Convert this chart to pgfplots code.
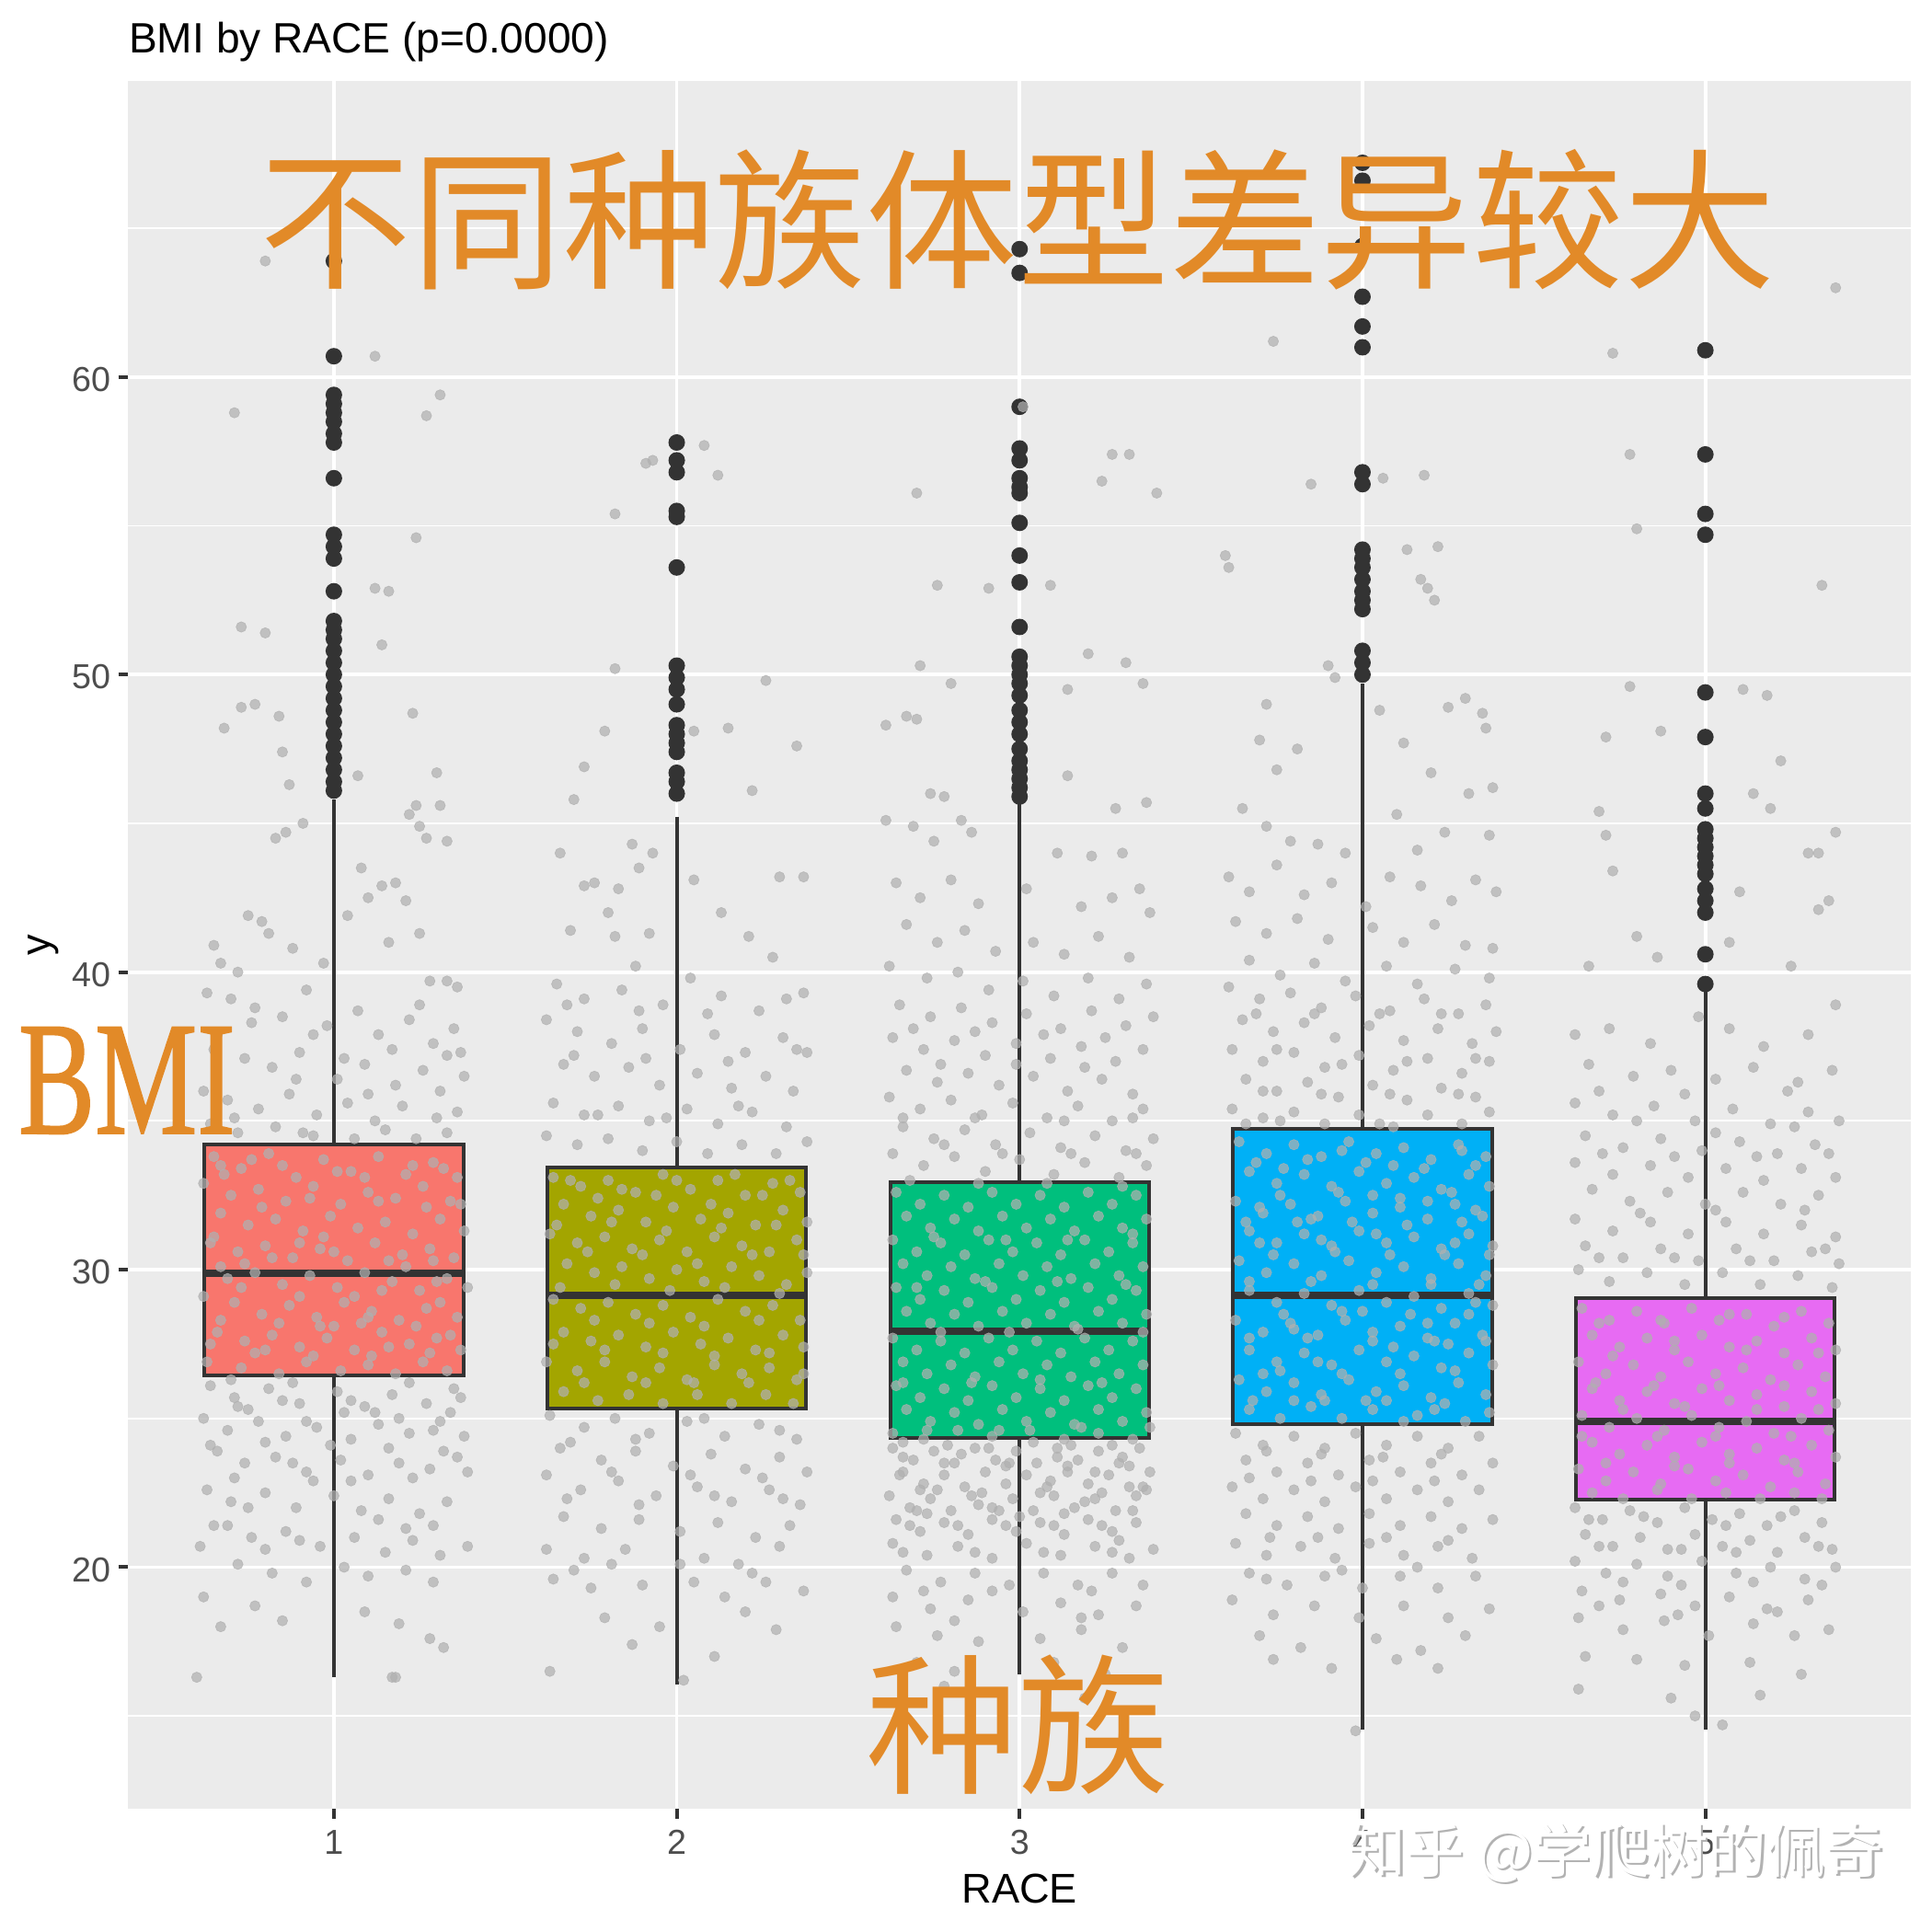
\documentclass[border=0pt]{standalone}
\usepackage{fontspec}
\usepackage{pgfplots}
\usepackage{pgfplotstable}
\pgfplotsset{compat=1.18}
\setmainfont{Liberation Sans}
\setsansfont{Liberation Sans}
\newfontfamily\cjk{Noto Sans CJK SC}
\newfontfamily\bmifont[FakeBold=1.2]{Liberation Serif}
\definecolor{panel}{HTML}{EBEBEB}
\definecolor{ink}{HTML}{333333}
\definecolor{ticktext}{HTML}{4D4D4D}
\definecolor{note}{HTML}{E28A28}
\definecolor{jit}{HTML}{B0B0B0}
\definecolor{c1}{HTML}{F8766D}
\definecolor{c2}{HTML}{A3A500}
\definecolor{c3}{HTML}{00BF7D}
\definecolor{c4}{HTML}{00B0F6}
\definecolor{c5}{HTML}{E76BF3}

% jitter points: d = horizontal offset from the category, v = BMI
\pgfplotstableread[row sep=\\]{
d v\\
-.29 58.8\\ .12 60.7\\ .31 59.4\\ .27 58.7\\ -.20 63.9\\ -.27 51.6\\ -.20 51.4\\ .12 52.9\\ .16 52.8\\ .24 54.6\\ .14 51\\ -.23 49\\ -.27 48.9\\ -.16 48.6\\ -.32 48.2\\ .23 48.7\\ .30 46.7\\ -.15 47.4\\ -.13 46.3\\ .07 46.6\\ .24 45.6\\ .22 45.3\\ .25 44.9\\ .31 45.6\\ .27 44.5\\ .33 44.4\\ -.14 44.7\\ -.17 44.5\\ -.09 45\\ .08 43.5\\ .18 43\\ .14 42.9\\
-.33 40.3\\ -.25 41.9\\ -.21 41.7\\ -.19 41.3\\ -.12 40.8\\ -.28 40\\ .04 41.9\\ .10 42.5\\ .21 42.4\\ .16 41\\ .28 39.7\\ .33 39.7\\ .36 39.5\\ -.37 39.3\\ -.30 39.1\\ -.23 38.8\\ -.15 38.5\\ -.08 39.4\\ -.02 38.2\\ .07 38.7\\ .13 37.9\\ .22 38.4\\ .29 37.6\\ .35 38.1\\ -.35 37.4\\ -.26 37.1\\ -.18 36.8\\ -.10 37.3\\ .01 36.4\\ .09 36.9\\ .18 36.2\\ .26 36.7\\ .38 36.5\\ -.38 36\\ -.31 35.7\\ -.22 35.4\\ -.13 35.9\\ -.05 35.2\\ .04 35.6\\ .12 35\\ .20 35.5\\ .30 35.1\\ .36 35.3\\ -.36 34.9\\ -.28 34.6\\ -.17 34.8\\ -.06 34.5\\ .06 34.4\\ .15 34.7\\ .24 34.4\\ .33 34.6\\
-.35 33.8\\ -.27 33.4\\ -.19 33.9\\ -.11 33.1\\ -.03 33.7\\ .05 33.3\\ .13 33.8\\ .21 33.2\\ .29 33.6\\ .36 33.1\\ -.38 32.9\\ -.30 32.5\\ -.22 32.7\\ -.14 32.3\\ -.06 32.8\\ .02 32.2\\ .10 32.6\\ .18 32.4\\ .26 32.8\\ .34 32.3\\ -.33 31.9\\ -.25 31.5\\ -.17 31.7\\ -.09 31.3\\ -.01 31.8\\ .07 31.4\\ .15 31.6\\ .23 31.2\\ .31 31.7\\ .38 31.3\\ -.36 30.9\\ -.28 30.6\\ -.20 30.8\\ -.12 30.4\\ -.04 30.7\\ .04 30.3\\ .12 30.9\\ .20 30.5\\ .28 30.7\\ .35 30.4\\ -.31 29.7\\ -.23 29.9\\ -.15 29.5\\ -.07 29.8\\ .01 29.4\\ .09 29.9\\ .17 29.6\\ .25 29.3\\ .33 29.7\\ -.38 29.1\\ -.29 28.9\\ -.21 28.5\\ -.13 28.8\\ -.05 28.4\\ .03 28.9\\ .11 28.6\\ .19 28.3\\ .27 28.7\\ .36 28.4\\ -.34 27.9\\ -.26 27.6\\ -.18 27.8\\ -.10 27.4\\ -.02 27.7\\ .06 27.3\\ .14 27.9\\ .22 27.5\\ .30 27.7\\ .37 27.3\\ -.37 26.9\\ -.27 26.7\\ -.16 26.5\\ -.08 26.9\\ .02 26.6\\ .10 26.8\\ .18 26.5\\ .26 26.9\\ .33 26.6\\
-.36 26.1\\ -.29 25.7\\ -.19 26\\ -.10 25.5\\ .01 25.9\\ .09 25.4\\ .17 25.8\\ .27 25.5\\ .35 26\\ -.38 25\\ -.31 24.6\\ -.22 24.9\\ -.14 24.4\\ -.05 24.7\\ .05 24.3\\ .13 24.8\\ .22 24.5\\ .31 24.9\\ .38 24.4\\ -.34 23.9\\ -.26 23.5\\ -.17 23.7\\ -.08 23.2\\ .02 23.6\\ .10 23.1\\ .19 23.5\\ .28 23.3\\ .36 23.7\\ -.37 22.6\\ -.30 22.2\\ -.20 22.5\\ -.11 22\\ .00 22.4\\ .08 21.9\\ .16 22.3\\ .25 21.8\\ .33 22.2\\ -.35 21.4\\ -.24 21\\ -.14 21.2\\ -.04 20.7\\ .06 21\\ .15 20.5\\ .23 20.9\\ .31 20.4\\ .39 20.7\\ -.39 20.7\\ -.28 20.1\\ -.18 19.8\\ -.08 19.5\\ .10 19.7\\ .21 19.9\\ .29 19.5\\ -.38 19\\ -.23 18.7\\ -.33 18\\ -.15 18.2\\ .09 18.5\\ .19 18.1\\ .28 17.6\\ .32 17.3\\ -.40 16.3\\ .17 16.3\\ .18 16.3\\
-.32 33.2\\ -.24 33.7\\ -.07 32.4\\ .09 33.1\\ .27 32.1\\ .32 33.4\\ -.35 31.1\\ -.21 32.1\\ -.03 31.1\\ .13 32.3\\ .21 30.1\\ .37 32.2\\ -.26 30.2\\ -.10 30.9\\ .06 29.1\\ .16 30.3\\ .31 28.9\\ -.33 28.3\\ -.16 28.2\\ .00 28.1\\ .08 28.2\\ .24 28.1\\ .39 29.4\\ -.23 27.2\\ -.06 27.1\\ .11 27.1\\ .28 27.2\\ -.30 26.3\\ -.12 26.2\\ .05 25.6\\ .22 26.2\\ .37 25.7\\ -.25 25.3\\ -.08 24.9\\ .12 25.2\\ .34 25.2\\ -.36 24.1\\ -.20 24.2\\ -.01 24.1\\ .16 24\\ .32 23.9\\ -.29 23\\ -.12 23.5\\ .05 22.9\\ .23 23\\ .39 23.2\\ -.25 22\\ -.06 22.9\\ .13 21.6\\ .29 21.4\\ -.31 21.4\\ -.10 20.9\\ .03 20\\ .21 21.3\\ -.20 20.6\\ -.34 37.9\\ -.11 36.4\\ .03 37.1\\ .17 37.4\\ .33 37.2\\ -.24 38.3\\ -.06 37.9\\ .10 35.9\\ .25 38.9\\ .37 37.3\\ -.29 35.1\\ -.09 34.6\\ .31 36\\ -.35 40.9\\ -.03 40.3\\ .25 41.3\\
-.33 30.1\\ -.18 30.4\\ .00 30.6\\ .14 29.3\\ .29 30.3\\ -.27 29.4\\ -.10 29.1\\ .10 28.4\\ .30 29.6\\ -.36 27.5\\ -.20 27.3\\ -.04 28.1\\ .16 27.4\\ .34 27.8\\ -.28 25.4\\ -.15 25.6\\ .03 25.2\\ .19 25\\ .29 24.6\\ -.33 33.5\\ -.15 33.5\\ .01 33.3\\ .23 33.5\\
}\jitone

\pgfplotstableread[row sep=\\]{
d v\\
.08 57.7\\ -.07 57.2\\ -.09 57.1\\ .12 56.7\\ -.18 55.4\\ .15 48.2\\ -.27 46.9\\ -.21 48.1\\ -.18 50.2\\ .26 49.8\\ .05 48.1\\ .35 47.6\\ -.30 45.8\\ .22 46.1\\ -.34 44\\ -.13 44.3\\ -.07 44\\ -.11 43.5\\ -.24 43\\ -.17 42.8\\ .05 43.1\\ .30 43.2\\ .37 43.2\\ -.27 42.9\\ -.20 42\\ -.31 41.4\\ -.18 41.2\\ -.08 41.3\\ -.12 40.2\\ .13 42\\ .21 41.2\\ .28 40.5\\
-.35 39.6\\ -.27 39.1\\ -.16 39.4\\ -.04 38.9\\ .04 39.8\\ .13 39.2\\ .24 38.7\\ .37 39.3\\ -.38 38.4\\ -.29 38\\ -.19 37.6\\ -.10 38.1\\ .01 37.4\\ .11 37.9\\ .20 37.3\\ .31 37.8\\ .38 37.3\\ -.33 36.9\\ -.24 36.5\\ -.14 36.8\\ -.05 36.2\\ .06 36.6\\ .16 36.1\\ .26 36.5\\ .34 36\\ -.36 35.6\\ -.27 35.2\\ -.17 35.5\\ -.08 35\\ .03 35.4\\ .12 34.9\\ .22 35.3\\ .32 34.8\\ -.38 34.5\\ -.29 34.2\\ -.20 34.4\\ -.10 34\\ .00 34.3\\ .09 33.9\\ .19 34.2\\ .29 33.9\\ .38 34.3\\
-.36 33.1\\ -.28 32.8\\ -.20 33\\ -.12 32.6\\ -.04 33.2\\ .04 32.7\\ .12 33\\ .20 32.5\\ .28 32.9\\ .36 32.6\\ -.33 32.2\\ -.25 31.8\\ -.17 32\\ -.09 31.6\\ -.01 32.1\\ .07 31.7\\ .15 31.9\\ .23 31.5\\ .31 32\\ .38 31.6\\ -.37 31.2\\ -.29 30.9\\ -.21 31.1\\ -.13 30.7\\ -.05 31\\ .03 30.6\\ .11 31.1\\ .19 30.8\\ .27 30.6\\ .35 31\\ -.32 30.2\\ -.24 29.9\\ -.16 30.1\\ -.08 29.7\\ .00 30\\ .08 29.6\\ .16 30.1\\ .24 29.8\\ .32 29.5\\ .38 29.9\\ -.36 29\\ -.28 28.7\\ -.20 28.9\\ -.12 28.5\\ -.04 28.8\\ .04 28.4\\ .12 29\\ .20 28.6\\ .28 28.8\\ .36 28.3\\ -.33 27.9\\ -.25 27.6\\ -.17 27.8\\ -.09 27.4\\ -.01 27.9\\ .07 27.5\\ .15 27.7\\ .23 27.3\\ .31 27.8\\ .37 27.4\\ -.38 26.9\\ -.29 26.6\\ -.21 26.9\\ -.13 26.4\\ -.05 26.7\\ .03 26.3\\ .11 26.8\\ .19 26.5\\ .27 26.7\\ .35 26.3\\ -.33 25.9\\ -.23 25.6\\ -.14 25.8\\ -.04 25.5\\ .06 25.8\\ .16 25.5\\ .26 25.8\\ .34 25.5\\
-.37 25.1\\ -.27 24.7\\ -.18 25\\ -.08 24.5\\ .03 24.9\\ .14 24.4\\ .24 24.8\\ .35 24.3\\ -.34 24\\ -.22 23.6\\ -.12 23.9\\ -.01 23.4\\ .10 23.8\\ .20 23.3\\ .30 23.7\\ .38 23.2\\ -.38 23.1\\ -.28 22.6\\ -.17 22.9\\ -.06 22.4\\ .06 22.7\\ .16 22.2\\ .27 22.6\\ .36 22.1\\ -.33 21.7\\ -.22 21.3\\ -.11 21.6\\ .01 21.2\\ .12 21.5\\ .23 21\\ .33 21.4\\ -.38 20.6\\ -.27 20.3\\ -.15 20.6\\ .08 20.3\\ .18 20.1\\ .30 20.7\\ -.36 19.6\\ -.25 19.3\\ -.10 19.4\\ .05 19.5\\ .14 19\\ .26 19.5\\ .37 19.2\\ -.21 18.3\\ -.05 18\\ .20 18.5\\ .29 17.9\\ -.13 17.4\\ .11 17\\ -.37 16.5\\ .02 16.2\\
-.31 33\\ -.16 32.7\\ .00 33\\ .17 33.2\\ .33 33\\ -.23 32.4\\ -.06 32.5\\ .10 32.2\\ .25 32.5\\ -.35 31.5\\ -.19 31.6\\ -.03 31.3\\ .13 31.4\\ .29 31.5\\ -.26 30.6\\ -.10 30.5\\ .06 30.2\\ .22 30.5\\ .37 30.5\\ -.34 29.4\\ -.18 29.5\\ -.02 29.3\\ .14 29.4\\ .30 29.2\\ -.24 28.3\\ -.08 28.2\\ .08 28.1\\ .24 28.3\\ -.36 27.5\\ -.21 27.3\\ -.04 27.2\\ .11 27.1\\ .27 27.2\\ -.27 26.2\\ -.09 26.2\\ .05 26.2\\ .21 26.2\\ .37 26.5\\ -.31 24.2\\ -.12 24.3\\ .08 25\\ .30 24.6\\ -.19 23.2\\ .04 23.1\\ .25 23\\ -.32 22.3\\ -.11 22.1\\ .11 22.4\\ .31 22.3\\ -.30 19.9\\ -.19 20.1\\ .01 20.1\\ .22 19.8\\ -.30 37.2\\ -.09 37.1\\ .15 37\\ .35 37.4\\ -.23 35.2\\ -.03 35.1\\ .18 35.5\\ -.32 38.9\\ -.11 38.7\\ .09 38.6\\ .32 39.1\\
}\jittwo

\pgfplotstableread[row sep=\\]{
d v\\
.01 59\\ -.30 56.1\\ .24 56.5\\ .27 57.4\\ .32 57.4\\ .40 56.1\\ -.24 53\\ -.09 52.9\\ .09 53\\ -.39 48.3\\ -.33 48.6\\ -.29 50.3\\ -.20 49.7\\ .20 50.7\\ .31 50.4\\ .36 49.7\\ .14 49.5\\ -.30 48.5\\ -.26 46\\ -.22 45.9\\ -.17 45.1\\ .14 46.6\\ .28 45.5\\ .37 45.7\\ -.39 45.1\\ -.31 44.9\\ -.25 44.4\\ -.14 44.7\\ .11 44\\ .21 43.9\\ .30 44\\ .35 42.8\\ -.36 43\\ -.29 42.5\\ -.20 43.1\\ -.12 42.3\\ .02 42.8\\ .18 42.2\\ .27 42.5\\ .38 42\\ -.33 41.6\\ -.24 41\\ -.16 41.4\\ -.07 40.7\\ .04 41\\ .13 40.6\\ .23 41.2\\ .32 40.5\\ -.38 40.2\\ -.27 39.8\\ -.18 40\\ -.09 39.4\\ .01 39.7\\ .10 39.2\\ .20 39.8\\ .29 39.1\\ .37 39.6\\
-.35 38.9\\ -.26 38.5\\ -.17 38.8\\ -.08 38.3\\ .02 38.6\\ .12 38.1\\ .21 38.7\\ .31 38.2\\ .39 38.5\\ -.37 37.8\\ -.28 37.4\\ -.19 37.7\\ -.10 37.2\\ -.01 37.6\\ .09 37.1\\ .18 37.5\\ .28 37\\ .36 37.4\\ -.33 36.7\\ -.24 36.3\\ -.15 36.6\\ -.06 36.2\\ .04 36.5\\ .14 36\\ .24 36.4\\ .33 35.9\\ -.38 35.8\\ -.29 35.4\\ -.20 35.7\\ -.11 35.2\\ -.02 35.6\\ .08 35.1\\ .17 35.5\\ .27 35\\ .36 35.4\\ -.34 34.8\\ -.25 34.4\\ -.16 34.7\\ -.07 34.2\\ .03 34.6\\ .12 34.1\\ .22 34.5\\ .31 34\\ .39 34.4\\ -.37 33.9\\ -.28 33.5\\ -.19 33.8\\ -.10 33.3\\ .00 33.7\\ .10 33.2\\ .19 33.6\\ .29 33.1\\ .37 33.5\\
-.36 32.6\\ -.29 32.2\\ -.22 32.5\\ -.15 32.1\\ -.08 32.6\\ -.01 32.2\\ .06 32.5\\ .13 32.1\\ .20 32.6\\ .27 32.2\\ .34 32.5\\ -.33 31.8\\ -.26 31.4\\ -.19 31.7\\ -.12 31.3\\ -.05 31.8\\ .02 31.4\\ .09 31.7\\ .16 31.3\\ .23 31.8\\ .30 31.4\\ .37 31.7\\ -.37 31\\ -.30 30.6\\ -.23 30.9\\ -.16 30.5\\ -.09 31\\ -.02 30.6\\ .05 30.9\\ .12 30.5\\ .19 31\\ .26 30.6\\ .33 30.9\\ -.34 30.2\\ -.27 29.8\\ -.20 30.1\\ -.13 29.7\\ -.06 30.2\\ .01 29.8\\ .08 30.1\\ .15 29.7\\ .22 30.2\\ .29 29.8\\ .36 30.1\\ -.36 29.4\\ -.29 29\\ -.22 29.3\\ -.15 28.9\\ -.08 29.4\\ -.01 29\\ .06 29.3\\ .13 28.9\\ .20 29.4\\ .27 29\\ .34 29.3\\ -.33 28.6\\ -.26 28.2\\ -.19 28.5\\ -.12 28.1\\ -.05 28.6\\ .02 28.2\\ .09 28.5\\ .16 28.1\\ .23 28.6\\ .30 28.2\\ .37 28.5\\ -.37 27.7\\ -.30 27.3\\ -.23 27.6\\ -.16 27.2\\ -.09 27.7\\ -.02 27.3\\ .05 27.6\\ .12 27.2\\ .19 27.7\\ .26 27.3\\ .33 27.6\\ -.34 26.9\\ -.27 26.5\\ -.20 26.8\\ -.13 26.4\\ -.06 26.9\\ .01 26.5\\ .08 26.8\\ .15 26.4\\ .22 26.9\\ .29 26.5\\ .36 26.8\\ -.36 26.1\\ -.29 25.7\\ -.22 26\\ -.15 25.6\\ -.08 26.1\\ -.01 25.7\\ .06 26\\ .13 25.6\\ .20 26.1\\ .27 25.7\\ .34 26\\ -.33 25.3\\ -.26 24.9\\ -.19 25.2\\ -.12 24.8\\ -.05 25.3\\ .02 24.9\\ .09 25.2\\ .16 24.8\\ .23 25.3\\ .30 24.9\\ .37 25.2\\ -.37 24.5\\ -.28 24.3\\ -.18 24.6\\ -.08 24.4\\ .03 24.6\\ .13 24.3\\ .23 24.5\\ .33 24.3\\
-.37 24\\ -.31 23.6\\ -.25 23.9\\ -.19 23.5\\ -.13 24\\ -.07 23.6\\ -.01 23.9\\ .05 23.5\\ .11 24\\ .17 23.6\\ .23 23.9\\ .29 23.5\\ .35 24\\ -.34 23.2\\ -.28 22.8\\ -.22 23.1\\ -.16 22.7\\ -.10 23.2\\ -.04 22.8\\ .02 23.1\\ .08 22.7\\ .14 23.2\\ .20 22.8\\ .26 23.1\\ .32 22.7\\ .38 23.2\\ -.38 22.4\\ -.32 22\\ -.26 22.3\\ -.20 21.9\\ -.14 22.4\\ -.08 22\\ -.02 22.3\\ .04 21.9\\ .10 22.4\\ .16 22\\ .22 22.3\\ .28 21.9\\ .34 22.4\\ -.36 21.6\\ -.29 21.2\\ -.22 21.5\\ -.15 21.1\\ -.08 21.6\\ -.01 21.2\\ .06 21.5\\ .13 21.1\\ .20 21.6\\ .27 21.2\\ .34 21.5\\ -.37 20.8\\ -.27 20.4\\ -.18 20.7\\ -.08 20.3\\ .02 20.8\\ .12 20.4\\ .22 20.7\\ .32 20.3\\ .39 20.6\\ -.33 19.9\\ -.23 19.5\\ -.13 19.8\\ -.03 19.4\\ .07 19.8\\ .17 19.4\\ .27 19.8\\ .36 19.4\\ -.37 19\\ -.26 18.6\\ -.15 18.9\\ .01 18.5\\ .12 18.8\\ .23 18.4\\ .34 18.7\\ -.36 18\\ -.24 17.7\\ -.12 17.5\\ .06 17.6\\ .18 17.9\\ .30 17.3\\ -.30 16.8\\ -.19 16.5\\ .10 16.8\\ .25 16.4\\ .19 15.6\\ -.22 16\\
-.32 33\\ -.12 32.9\\ .08 32.9\\ .30 32.8\\ -.25 31.1\\ -.04 31\\ .14 31\\ .33 31.2\\ -.30 29.4\\ -.10 29.6\\ .11 29.6\\ .31 29.5\\ -.23 27.9\\ -.03 27.9\\ .17 28\\ .36 27.9\\ -.34 26.2\\ -.14 26.2\\ .06 26.3\\ .24 26.2\\ -.27 24.6\\ -.06 24.6\\ .18 24.7\\ .38 24.7\\ -.34 23.7\\ -.22 23.5\\ -.04 23.4\\ .14 23.4\\ .32 23.4\\ -.29 22.6\\ -.11 22.5\\ .06 22.5\\ .24 22.5\\ .37 22.6\\ -.32 21.4\\ -.18 21.4\\ -.04 21.4\\ .10 21.4\\ .24 21.4\\ -.34 20.5\\ -.13 20.5\\ .07 20.5\\ .27 20.5\\ -.28 19.2\\ -.08 19.2\\ .21 19.2\\ -.19 18.2\\ .18 18.3\\ -.31 38.1\\ -.13 38\\ .07 37.9\\ .25 37.8\\ -.23 36.9\\ -.01 36.9\\ .19 36.8\\ -.34 35.1\\ -.13 35.1\\ .13 35\\ .33 35.1\\ -.22 34.2\\ -.05 33.9\\ .15 33.9\\ .34 33.9\\
-.35 23.1\\ -.24 22.6\\ -.12 22.1\\ -.03 23.5\\ .09 22.9\\ .19 22.2\\ .30 23.7\\ .36 22.7\\ -.30 21.9\\ -.17 23.8\\ .00 21.7\\ .11 23.7\\ .22 23.2\\ .33 21.9\\ -.34 24.2\\ -.21 24.1\\ -.09 24\\ .04 24.2\\ .15 24.1\\ .27 24.1\\ -.27 21.8\\ -.06 21.9\\ .13 21.8\\ .29 20.9\\
}\jitthree

\pgfplotstableread[row sep=\\]{
d v\\
-.26 61.2\\ -.15 56.4\\ .06 56.6\\ .18 56.7\\ -.40 54\\ -.39 53.6\\ .13 54.2\\ .22 54.3\\ .17 53.2\\ .19 52.9\\ .21 52.5\\ -.10 50.3\\ -.08 49.9\\ .05 48.8\\ .25 48.9\\ .30 49.2\\ .36 48.2\\ .35 48.7\\ -.28 49\\ -.30 47.8\\ -.25 46.8\\ -.19 47.5\\ .12 47.7\\ .20 46.7\\ .31 46\\ .38 46.2\\ -.35 45.5\\ -.28 44.9\\ -.21 44.4\\ -.13 44.3\\ -.05 44\\ .10 45.3\\ .16 44.1\\ .24 44.7\\ .37 44.6\\ .33 43.1\\ -.39 43.2\\ -.33 42.7\\ -.25 43.6\\ -.17 42.6\\ -.09 43\\ .01 42.2\\ .08 43.2\\ .17 42.9\\ .26 42.4\\ .39 42.7\\ -.37 41.7\\ -.28 41.3\\ -.19 41.8\\ -.10 41.1\\ .03 41.5\\ .12 41\\ .21 41.6\\ .30 40.9\\ .38 40.8\\ -.33 40.4\\ -.24 39.9\\ -.14 40.3\\ -.05 39.7\\ .07 40.2\\ .16 39.6\\ .27 40.1\\ .37 39.8\\
-.39 39.5\\ -.30 39.1\\ -.21 39.3\\ -.12 38.8\\ -.02 39.2\\ .08 38.7\\ .18 39.1\\ .28 38.6\\ .36 38.9\\ -.35 38.4\\ -.26 38\\ -.17 38.3\\ -.08 37.8\\ .02 38.2\\ .12 37.7\\ .22 38.1\\ .32 37.6\\ .39 38\\ -.38 37.4\\ -.29 37\\ -.20 37.3\\ -.11 36.8\\ -.01 37.2\\ .09 36.7\\ .19 37.1\\ .29 36.6\\ .37 37\\ -.34 36.4\\ -.25 36\\ -.16 36.3\\ -.07 35.8\\ .03 36.2\\ .13 35.7\\ .23 36.1\\ .33 35.8\\ -.38 35.4\\ -.29 35.1\\ -.20 35.3\\ -.11 34.9\\ -.01 35.2\\ .09 34.8\\ .19 35.2\\ .29 34.9\\ .37 35.3\\ -.34 34.9\\ -.24 35\\ .05 34.9\\
-.36 34.3\\ -.28 33.9\\ -.20 34.2\\ -.12 33.8\\ -.04 34.3\\ .04 33.9\\ .12 34.1\\ .20 33.7\\ .28 34.2\\ .36 33.8\\ -.33 33.3\\ -.25 32.9\\ -.17 33.2\\ -.09 32.8\\ -.01 33.3\\ .07 32.9\\ .15 33.1\\ .23 32.7\\ .31 33.2\\ .37 32.8\\ -.37 32.3\\ -.29 31.9\\ -.21 32.2\\ -.13 31.8\\ -.05 32.3\\ .03 31.9\\ .11 32.1\\ .19 31.7\\ .27 32.2\\ .35 31.8\\ -.33 31.3\\ -.25 30.9\\ -.17 31.2\\ -.09 30.8\\ -.01 31.3\\ .07 30.9\\ .15 31.1\\ .23 30.7\\ .31 31.2\\ .38 30.8\\ -.36 30.3\\ -.28 29.9\\ -.20 30.2\\ -.12 29.8\\ -.04 30.3\\ .04 29.9\\ .12 30.1\\ .20 29.7\\ .28 30.2\\ .36 29.8\\ -.33 29.3\\ -.25 28.9\\ -.17 29.2\\ -.09 28.8\\ -.01 29.3\\ .07 28.9\\ .15 29.1\\ .23 28.7\\ .31 29.2\\ .38 28.8\\ -.37 28.3\\ -.29 27.9\\ -.21 28.2\\ -.13 27.8\\ -.05 28.3\\ .03 27.9\\ .11 28.1\\ .19 27.7\\ .27 28.2\\ .35 27.8\\ -.33 27.3\\ -.25 26.9\\ -.17 27.2\\ -.09 26.8\\ -.01 27.3\\ .07 26.9\\ .15 27.1\\ .23 26.7\\ .31 27.2\\ .38 26.8\\ -.36 26.3\\ -.28 25.9\\ -.20 26.2\\ -.12 25.8\\ -.04 26.3\\ .04 25.9\\ .12 26.1\\ .20 25.7\\ .28 26.2\\ .36 25.8\\ -.33 25.3\\ -.24 25\\ -.15 25.4\\ -.06 25\\ .03 25.3\\ .12 24.9\\ .21 25.3\\ .30 24.9\\ .37 25.2\\
-.37 24.5\\ -.29 24.1\\ -.20 24.4\\ -.11 24\\ -.02 24.5\\ .07 24.1\\ .16 24.4\\ .25 24\\ .34 24.4\\ -.34 23.6\\ -.25 23.2\\ -.16 23.5\\ -.07 23.1\\ .02 23.6\\ .11 23.2\\ .20 23.5\\ .29 23.1\\ .38 23.5\\ -.38 22.7\\ -.29 22.3\\ -.20 22.6\\ -.11 22.2\\ -.02 22.7\\ .07 22.3\\ .16 22.6\\ .25 22.2\\ .34 22.6\\ -.34 21.8\\ -.25 21.4\\ -.16 21.7\\ -.07 21.3\\ .02 21.8\\ .11 21.4\\ .20 21.7\\ .29 21.3\\ .38 21.6\\ -.37 20.8\\ -.28 20.4\\ -.18 20.7\\ -.08 20.3\\ .02 20.8\\ .12 20.4\\ .22 20.7\\ .32 20.3\\ -.33 19.8\\ -.22 19.4\\ -.11 19.7\\ .00 19.3\\ .11 19.7\\ .22 19.3\\ .33 19.7\\ -.38 18.9\\ -.26 18.4\\ -.14 18.7\\ -.01 18.3\\ .12 18.7\\ .25 18.3\\ .37 18.6\\ -.30 17.7\\ -.18 17.3\\ .04 17.6\\ .17 17.2\\ .30 17.7\\ -.26 16.9\\ -.09 16.6\\ .10 16.9\\ .22 16.6\\ -.02 14.5\\
-.31 33.6\\ -.16 33.7\\ .01 33.6\\ .18 33.4\\ .33 33.5\\ -.24 32.5\\ -.07 32.6\\ .11 32.4\\ .26 32.6\\ -.34 31.6\\ -.19 31.6\\ -.03 31.6\\ .13 31.5\\ .29 31.6\\ -.26 30.5\\ -.08 30.6\\ .08 30.5\\ .24 30.5\\ .37 30.5\\ -.33 29.6\\ -.15 29.6\\ .03 29.5\\ .20 29.5\\ .34 29.5\\ -.23 28.5\\ -.06 28.6\\ .14 28.5\\ .31 28.5\\ -.33 27.7\\ -.16 27.7\\ .03 27.6\\ .21 27.6\\ .36 27.6\\ -.24 26.6\\ -.06 26.5\\ .11 26.5\\ .27 26.6\\ -.32 25.6\\ -.11 25.6\\ .07 25.6\\ .24 25.5\\ -.28 23.9\\ -.12 23.8\\ .06 23.7\\ .23 23.8\\ -.33 23\\ -.15 22.9\\ .03 22.9\\ .21 22.9\\ -.27 21\\ -.13 21\\ .07 21\\ .25 20.9\\ -.28 19.6\\ -.06 19.9\\ .16 20\\ -.31 38.6\\ -.14 38.6\\ .05 38.6\\ .23 38.6\\ -.25 37.4\\ -.06 36.9\\ .13 37\\ .33 37.1\\ -.29 36\\ -.12 35.9\\ .08 35.9\\ .28 35.9\\
-.23 33.4\\ -.06 34\\ .09 33.5\\ .29 34\\ -.30 32.1\\ -.15 31.7\\ .03 32.5\\ .19 32.3\\ .33 32\\ -.30 30.9\\ -.12 31\\ .04 31.2\\ .27 30.9\\ -.20 28\\ .00 28.6\\ .19 28.2\\ .33 28.9\\ -.29 26.5\\ -.13 26.9\\ .09 27.4\\ .25 27.5\\ -.20 25.6\\ .01 25.6\\ .16 25.1\\
}\jitfour

\pgfplotstableread[row sep=\\]{
d v\\
-.27 60.8\\ .38 63\\ -.22 57.4\\ .34 53\\ -.20 54.9\\ -.22 49.6\\ .11 49.5\\ .18 49.3\\ -.29 47.9\\ -.13 48.1\\ .22 47.1\\ -.31 45.4\\ -.29 44.6\\ .14 46\\ .19 45.5\\ .33 44\\ .38 44.7\\ .30 44\\ -.27 43.4\\ .36 42.4\\ .33 42.1\\ .10 42.7\\
-.20 41.2\\ -.34 40.2\\ -.14 40.5\\ .07 41\\ .25 40.2\\ .38 38.9\\ -.38 37.9\\ -.28 38.1\\ -.16 37.6\\ -.02 38.5\\ .07 38.1\\ .17 37.5\\ .30 37.9\\ -.34 36.9\\ -.21 36.5\\ -.10 36.7\\ .03 36.4\\ .14 36.8\\ .27 36.3\\ .37 36.7\\ -.38 35.6\\ -.27 35.2\\ -.15 35.5\\ -.03 35\\ .08 35.4\\ .19 34.9\\ .30 35.3\\ .39 35\\ -.35 34.5\\ -.24 34.1\\ -.13 34.4\\ -.01 34\\ .10 34.3\\ .21 33.9\\ .32 34.2\\ -.38 33.6\\ -.27 33.2\\ -.16 33.5\\ -.05 33.1\\ .06 33.4\\ .17 33\\ .28 33.4\\ .38 33.1\\ -.33 32.7\\ -.22 32.3\\ -.11 32.6\\ .00 32.2\\ .11 32.6\\ .22 32.2\\ .33 32.5\\ -.38 31.7\\ -.27 31.3\\ -.16 31.6\\ -.05 31.2\\ .06 31.6\\ .17 31.2\\ .28 31.5\\ .38 31.1\\ -.35 30.8\\ -.24 30.4\\ -.13 30.7\\ -.02 30.3\\ .09 30.7\\ .20 30.3\\ .31 30.6\\ .39 30.2\\ -.37 30\\ -.28 29.6\\ -.17 29.9\\ -.06 29.5\\ .05 29.9\\ .16 29.5\\ .27 29.8\\ .37 29.4\\
-.36 28.7\\ -.28 28.3\\ -.20 28.6\\ -.12 28.2\\ -.04 28.7\\ .04 28.3\\ .12 28.5\\ .20 28.1\\ .28 28.6\\ .36 28.2\\ -.33 27.8\\ -.25 27.4\\ -.17 27.7\\ -.09 27.3\\ -.01 27.8\\ .07 27.4\\ .15 27.6\\ .23 27.2\\ .31 27.7\\ .38 27.3\\ -.37 26.9\\ -.29 26.5\\ -.21 26.8\\ -.13 26.4\\ -.05 26.9\\ .03 26.5\\ .11 26.7\\ .19 26.3\\ .27 26.8\\ .35 26.4\\ -.33 26\\ -.25 25.6\\ -.17 25.9\\ -.09 25.5\\ -.01 26\\ .07 25.6\\ .15 25.8\\ .23 25.4\\ .31 25.9\\ .38 25.5\\ -.36 25.1\\ -.28 24.7\\ -.20 25\\ -.12 24.6\\ -.04 25.1\\ .04 24.7\\ .12 24.9\\ .20 24.5\\ .28 25\\ .36 24.6\\ -.33 24.2\\ -.25 23.8\\ -.17 24.1\\ -.09 23.7\\ -.01 24.2\\ .07 23.8\\ .15 24\\ .23 23.6\\ .31 24.1\\ .38 23.7\\ -.37 23.3\\ -.29 22.9\\ -.21 23.2\\ -.13 22.8\\ -.05 23.3\\ .03 22.9\\ .11 23.1\\ .19 22.7\\ .27 23.2\\ .35 22.8\\ -.33 22.5\\ -.24 22.3\\ -.14 22.6\\ -.04 22.3\\ .06 22.5\\ .16 22.3\\ .26 22.5\\ .34 22.3\\
-.38 22\\ -.30 21.6\\ -.22 21.9\\ -.14 21.5\\ -.06 22\\ .02 21.6\\ .10 21.8\\ .18 21.4\\ .26 21.9\\ .34 21.5\\ -.35 21.1\\ -.27 20.7\\ -.19 21\\ -.11 20.6\\ -.03 21.1\\ .05 20.7\\ .13 20.9\\ .21 20.5\\ .29 21\\ .37 20.6\\ -.38 20.2\\ -.29 19.8\\ -.20 20.1\\ -.11 19.7\\ -.01 20.2\\ .09 19.8\\ .19 20\\ .29 19.6\\ .38 20\\ -.36 19.2\\ -.25 18.9\\ -.13 19.1\\ -.03 18.7\\ .07 19\\ .18 18.6\\ .30 18.9\\ -.37 18.3\\ -.24 17.9\\ -.12 18.2\\ .01 17.7\\ .14 18.1\\ .26 17.7\\ .36 17.9\\ -.35 17\\ -.20 16.9\\ -.06 16.7\\ .13 16.8\\ .28 16.4\\ -.37 15.9\\ -.10 15.6\\ .16 15.7\\ -.03 15\\ .05 14.7\\
-.31 28.2\\ -.13 28.3\\ .07 28.5\\ .23 28.4\\ -.27 27.1\\ -.09 27.6\\ .12 27.3\\ .33 27.2\\ -.32 26.2\\ -.15 26.1\\ .04 26.1\\ .23 26.1\\ -.24 25.3\\ -.06 25.4\\ .15 25.3\\ .33 25.3\\ -.36 24.4\\ -.14 24.4\\ .03 24.4\\ .25 24.4\\ -.29 23.5\\ -.09 23.4\\ .07 23.5\\ .26 23.5\\ -.34 21.6\\ -.18 21.7\\ .06 21.4\\ .22 21.7\\ -.31 20.7\\ -.07 20.6\\ .09 20.5\\ .33 20.7\\ -.24 19.5\\ -.07 19.4\\ .14 19.5\\ .34 19.4\\ -.31 18.7\\ -.08 18.4\\ .21 18.5\\ -.31 36\\ -.06 35.9\\ .24 36\\ -.20 35\\ .03 34.6\\ .26 34.8\\ -.30 33.9\\ -.09 33.8\\ .15 33.8\\ .36 33.9\\ -.19 31.9\\ .03 32\\ .29 32\\ -.31 30.4\\ -.09 30.4\\ .13 30.3\\ .35 30.7\\
}\jitfive

\begin{document}
\begin{tikzpicture}
\path[use as bounding box] (0,0) rectangle (156.8mm,156.8mm);
\begin{axis}[
    at={(10.4mm,10mm)}, anchor=south west,
    scale only axis, width=144.7mm, height=140.2mm,
    xmin=0.4, xmax=5.6, ymin=11.88, ymax=69.94,
    axis background/.style={fill=panel},
    axis line style={draw=none},
    xtick={1,2,3,4,5}, ytick={20,30,40,50,60},
    minor ytick={15,25,35,45,55,65},
    xtick pos=bottom, ytick pos=left,
    tick align=outside,
    major tick length=0.8mm, minor tick length=0pt,
    major tick style={draw=ink,line width=0.3mm},
    xmajorgrids, ymajorgrids, yminorgrids,
    major grid style={draw=white,line width=0.28mm},
    minor grid style={draw=white,line width=0.14mm},
    tick label style={text=ticktext,font=\fontsize{8}{9.6}\selectfont},
    /pgf/number format/assume math mode=true,
    xticklabel style={yshift=0.3mm},
    yticklabel style={xshift=0.6mm,yshift=-0.2mm},
    xlabel={RACE}, ylabel={y},
    label style={font=\fontsize{9.6}{11.5}\selectfont},
    xlabel style={at={(axis description cs:0.5,0)},anchor=center,yshift=-6.5mm},
    ylabel style={at={(axis description cs:0,0.5)},anchor=center,yshift=6.9mm},
    title={BMI by RACE (p=0.0000)},
    title style={at={(axis description cs:0,1)},anchor=south west,inner sep=0pt,xshift=0mm,yshift=-0.6mm,font=\fontsize{9.8}{11.8}\selectfont},
    every axis plot/.append style={forget plot},
]
\pgfplotsset{
    whisk/.style={draw=ink,line width=0.3mm,no marks},
    boxs/.style={draw=ink,line width=0.3mm,no marks},
    med/.style={draw=ink,line width=0.6mm,no marks},
}
% whiskers
\addplot[whisk] coordinates {(1,16.3)(1,45.8)};
\addplot[whisk] coordinates {(2,16.05)(2,45.2)};
\addplot[whisk] coordinates {(3,16.4)(3,45.8)};
\addplot[whisk] coordinates {(4,14.55)(4,49.7)};
\addplot[whisk] coordinates {(5,14.55)(5,39.4)};
% boxes
\addplot[boxs,fill=c1] coordinates {(0.6225,26.44)(1.3775,26.44)(1.3775,34.22)(0.6225,34.22)} -- cycle;
\addplot[boxs,fill=c2] coordinates {(1.6225,25.32)(2.3775,25.32)(2.3775,33.44)(1.6225,33.44)} -- cycle;
\addplot[boxs,fill=c3] coordinates {(2.6225,24.33)(3.3775,24.33)(3.3775,32.94)(2.6225,32.94)} -- cycle;
\addplot[boxs,fill=c4] coordinates {(3.6225,24.82)(4.3775,24.82)(4.3775,34.72)(3.6225,34.72)} -- cycle;
\addplot[boxs,fill=c5] coordinates {(4.6225,22.26)(5.3775,22.26)(5.3775,29.05)(4.6225,29.05)} -- cycle;
% medians
\addplot[med] coordinates {(0.6225,29.88)(1.3775,29.88)};
\addplot[med] coordinates {(1.6225,29.13)(2.3775,29.13)};
\addplot[med] coordinates {(2.6225,27.93)(3.3775,27.93)};
\addplot[med] coordinates {(3.6225,29.13)(4.3775,29.13)};
\addplot[med] coordinates {(4.6225,24.9)(5.3775,24.9)};
% outliers
\addplot[only marks,mark=*,mark size=0.6mm,mark options={draw=ink,fill=ink}] coordinates {
(1,63.9)(1,60.7)(1,59.4)(1,59.1)(1,58.8)(1,58.5)(1,58.1)(1,57.8)(1,56.6)(1,54.7)(1,54.3)(1,53.9)(1,52.8)(1,51.8)(1,51.5)(1,51.2)(1,50.8)(1,50.4)(1,50)(1,49.6)(1,49.2)(1,48.8)(1,48.4)(1,48)(1,47.6)(1,47.2)(1,46.8)(1,46.4)(1,46.1)
(2,57.8)(2,57.2)(2,56.8)(2,55.5)(2,55.3)(2,53.6)(2,50.3)(2,49.9)(2,49.5)(2,49)(2,48.3)(2,48)(2,47.7)(2,47.4)(2,46.7)(2,46.4)(2,46)
(3,64.3)(3,63.5)(3,59)(3,57.6)(3,57.2)(3,56.6)(3,56.3)(3,56.1)(3,55.1)(3,54)(3,53.1)(3,51.6)(3,50.6)(3,50.3)(3,50)(3,49.7)(3,49.3)(3,48.8)(3,48.4)(3,48)(3,47.5)(3,47.1)(3,46.8)(3,46.5)(3,46.2)(3,45.9)
(4,67.2)(4,66.6)(4,64.4)(4,62.7)(4,61.7)(4,61)(4,56.8)(4,56.4)(4,54.2)(4,53.9)(4,53.6)(4,53.2)(4,52.8)(4,52.5)(4,52.2)(4,50.8)(4,50.4)(4,50)
(5,60.9)(5,57.4)(5,55.4)(5,54.7)(5,49.4)(5,47.9)(5,46)(5,45.5)(5,44.8)(5,44.5)(5,44.2)(5,43.9)(5,43.6)(5,43.3)(5,42.8)(5,42.4)(5,42)(5,40.6)(5,39.6)
};
% jitter
\pgfplotsset{jit/.style={only marks,mark=*,mark size=0.42mm,mark options={draw=jit,fill=jit,line width=0.05mm,opacity=0.72}}}
\addplot[jit] table[x expr=\thisrow{d}+1,y=v] {\jitone};
\addplot[jit] table[x expr=\thisrow{d}+2,y=v] {\jittwo};
\addplot[jit] table[x expr=\thisrow{d}+3,y=v] {\jitthree};
\addplot[jit] table[x expr=\thisrow{d}+4,y=v] {\jitfour};
\addplot[jit] table[x expr=\thisrow{d}+5,y=v] {\jitfive};
\end{axis}
% hand annotations over the chart
\node[text=note,font=\cjk\fontsize{35}{40}\selectfont,inner sep=0pt] at (82.6mm,139mm) {不同种族体型差异较大};
\node[text=note,font=\cjk\fontsize{35}{40}\selectfont,inner sep=0pt] at (82.6mm,16.8mm) {种族};
\node[text=note,font=\bmifont\fontsize{34}{40}\selectfont,inner sep=0pt,xscale=0.78,yscale=1.1] at (10.3mm,69.1mm) {BMI};
\node[text=black!30,font=\cjk\fontsize{13.5}{16}\selectfont,inner sep=0pt] at (131.3mm,6.3mm) {知乎 @学爬树的佩奇};
\node[text=white,font=\cjk\fontsize{13.5}{16}\selectfont,inner sep=0pt] at (131.12mm,6.42mm) {知乎 @学爬树的佩奇};
\end{tikzpicture}
\end{document}
